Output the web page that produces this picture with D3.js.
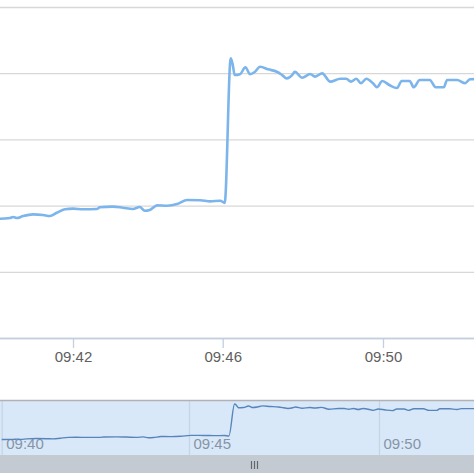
<!DOCTYPE html>
<html>
<head>
<meta charset="utf-8">
<script src="https://cdn.jsdelivr.net/npm/d3@7"></script>
<style>
  html, body { margin: 0; padding: 0; background: #fff; }
  svg { display: block; font-family: "Liberation Sans", Arial, sans-serif; }
</style>
</head>
<body>
<div id="chart"></div>
<script>
// data
const times = [
  '09:40:00', '09:40:03', '09:40:19', '09:40:24', '09:40:30', '09:40:40', '09:40:56', '09:41:12',
  '09:41:23', '09:41:34', '09:41:47', '09:42:00', '09:42:16', '09:42:38', '09:42:43', '09:43:04',
  '09:43:20', '09:43:36', '09:43:47', '09:43:55', '09:44:03', '09:44:15', '09:44:31', '09:44:47',
  '09:45:03', '09:45:24', '09:45:40', '09:45:56', '09:46:03', '09:46:12', '09:46:15', '09:46:18',
  '09:46:26', '09:46:34', '09:46:41', '09:46:48', '09:46:56', '09:47:08', '09:47:21', '09:47:29',
  '09:47:36', '09:47:44', '09:47:48', '09:47:59', '09:48:11', '09:48:18', '09:48:29', '09:48:41',
  '09:48:56', '09:49:05', '09:49:12', '09:49:20', '09:49:27', '09:49:35', '09:49:45', '09:49:51',
  '09:49:59', '09:50:10', '09:50:21', '09:50:28', '09:50:40', '09:50:46', '09:50:55', '09:51:10',
  '09:51:19', '09:51:31', '09:51:36', '09:51:51', '09:52:03', '09:52:10', '09:52:22', '09:52:30'
]
const values = [
  90.2, 90.1, 90.6, 91.4, 90.6, 92.1, 93.4, 92.9,
  92.1, 94.6, 97.2, 97.7, 97.2, 97.4, 98.7, 99.2,
  98.4, 97.4, 98.9, 96.1, 96.7, 100.2, 99.9, 101.2,
  104.2, 104.0, 103.2, 103.7, 102.0, 211.3, 206.5, 198.6,
  199.2, 204.5, 199.2, 200.9, 204.9, 202.9, 201.1, 198.6,
  196.1, 198.6, 201.1, 196.6, 199.4, 197.4, 199.9, 193.6,
  195.8, 195.8, 193.6, 195.8, 192.4, 195.8, 192.4, 189.4,
  194.1, 190.9, 188.8, 194.1, 194.1, 189.4, 194.9, 194.9,
  189.4, 189.4, 194.9, 194.9, 192.4, 195.4, 195.6, 195.5
]
const yTicks = [0, 50, 100, 150, 200, 250]
const xTickLabels = ['09:42', '09:46', '09:50']
const navTickLabels = ['09:40', '09:45', '09:50']

const parseTime = d3.timeParse('%H:%M:%S')
const parseHM = d3.timeParse('%H:%M')
const fmt = d3.timeFormat('%H:%M')

const dataset = times.map((t, i) => ({ date: parseTime(t), value: values[i] }))

// Dimensions
const dimensions = {
  width: 474,
  height: 474,
  plotTop: 7,
  plotBottom: 338,
  navTop: 400,
  navBottom: 455,
  scrollBottom: 474,
}

// Accessors
const xAccessor = (d) => d.date
const yAccessor = (d) => d.value

// Scales (ordinal-ish time axis, so a piecewise range)
const xScale = d3.scaleTime()
  .domain(xTickLabels.map(parseHM))
  .range([73, 222.7, 383])
const yScale = d3.scaleLinear()
  .domain([0, 250])
  .range([dimensions.plotBottom, dimensions.plotTop])

const navX = d3.scaleTime()
  .domain(navTickLabels.map(parseHM))
  .range([1.7, 189, 379])
const navY = d3.scaleLinear()
  .domain(d3.extent(dataset, yAccessor))
  .range([439.5, 404])

const svg = d3.select('#chart')
  .append('svg')
  .attr('width', dimensions.width)
  .attr('height', dimensions.height)

// y grid
const yAxis = d3.axisLeft(yScale).tickValues(yTicks).tickSize(-dimensions.width).tickFormat('')
const yAxisGroup = svg.append('g').call(yAxis)
yAxisGroup.select('.domain').remove()
yAxisGroup.selectAll('.tick line')
  .attr('stroke', '#d8d8d8')
  .attr('stroke-width', 1.3)

// main line
const line = d3.line()
  .x((d) => xScale(xAccessor(d)))
  .y((d) => yScale(yAccessor(d)))
  .curve(d3.curveMonotoneX)

svg.append('path')
  .datum(dataset)
  .attr('d', line)
  .attr('fill', 'none')
  .attr('stroke', '#7cb5ec')
  .attr('stroke-width', 2.6)
  .attr('stroke-linejoin', 'round')

// x axis
const xAxis = d3.axisBottom(xScale)
  .tickValues(xTickLabels.map(parseHM))
  .tickFormat(fmt)
  .tickSize(10)
  .tickPadding(3.5)
const xAxisGroup = svg.append('g')
  .attr('transform', `translate(0, ${dimensions.plotBottom})`)
  .call(xAxis)
xAxisGroup.select('.domain')
  .attr('d', `M0,0.5H${dimensions.width}`)
  .attr('stroke', '#c0d0e0')
  .attr('stroke-width', 1.3)
xAxisGroup.selectAll('.tick line').attr('stroke', '#c0d0e0').attr('stroke-width', 1.3)
xAxisGroup.selectAll('.tick text')
  .attr('fill', '#606060')
  .style('font-size', '15px')
  .style('font-family', '"Liberation Sans", Arial, sans-serif')

// navigator
const nav = svg.append('g')
const navH = dimensions.navBottom - dimensions.navTop

const navAxis = d3.axisBottom(navX)
  .tickValues(navTickLabels.map(parseHM))
  .tickFormat(fmt)
  .tickSize(-navH)
const navAxisGroup = nav.append('g')
  .attr('transform', `translate(0, ${dimensions.navBottom})`)
  .call(navAxis)
navAxisGroup.select('.domain').remove()
navAxisGroup.selectAll('.tick line').attr('stroke', '#e4e4e4').attr('stroke-width', 1.3)
navAxisGroup.selectAll('.tick text')
  .attr('x', 4)
  .attr('y', -6)
  .attr('dy', 0)
  .attr('text-anchor', 'start')
  .attr('fill', '#888')
  .style('font-size', '15px')
  .style('font-family', '"Liberation Sans", Arial, sans-serif')

const navLine = d3.line()
  .x((d) => navX(xAccessor(d)))
  .y((d) => navY(yAccessor(d)))
  .curve(d3.curveMonotoneX)

nav.append('path')
  .datum(dataset)
  .attr('d', navLine)
  .attr('fill', 'none')
  .attr('stroke', '#4572a7')
  .attr('stroke-width', 1.4)

// selected-range mask
nav.append('rect')
  .attr('x', 0)
  .attr('y', dimensions.navTop)
  .attr('width', dimensions.width)
  .attr('height', navH)
  .attr('fill', 'rgba(128,179,236,0.3)')

nav.append('line')
  .attr('x1', 0)
  .attr('x2', dimensions.width)
  .attr('y1', dimensions.navTop + 0.5)
  .attr('y2', dimensions.navTop + 0.5)
  .attr('stroke', '#b2b1b6')
  .attr('stroke-width', 1.5)

// scrollbar
const scroll = svg.append('g')
scroll.append('rect')
  .attr('x', 0)
  .attr('y', dimensions.navBottom)
  .attr('width', dimensions.width)
  .attr('height', dimensions.scrollBottom - dimensions.navBottom - 1)
  .attr('fill', '#c3cad2')

const gripX = 254
scroll.selectAll('.grip')
  .data([-3, 0, 3])
  .join('line')
  .attr('x1', (d) => gripX + d + 0.5)
  .attr('x2', (d) => gripX + d + 0.5)
  .attr('y1', 461)
  .attr('y2', 469)
  .attr('stroke', '#666')
  .attr('stroke-width', 1.2)
</script>
</body>
</html>
